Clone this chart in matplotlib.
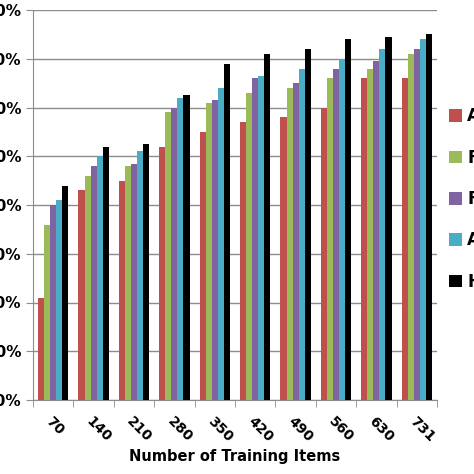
import matplotlib
matplotlib.use("Agg")
import matplotlib.pyplot as plt
import numpy as np

categories = ["70", "140", "210", "280", "350", "420", "490", "560", "630", "731"]
series_names = ["A", "F", "F", "A", "H"]
s1 = [41, 63, 65, 72, 75, 77, 78, 80, 86, 86]
s2 = [56, 66, 68, 79, 81, 83, 84, 86, 88, 91]
s3 = [60, 68, 68.5, 80, 81.5, 86, 85, 88, 89.5, 92]
s4 = [61, 70, 71, 82, 84, 86.5, 88, 90, 92, 94]
s5 = [64, 72, 72.5, 82.5, 89, 91, 92, 94, 94.5, 95]
yticks = [20, 30, 40, 50, 60, 70, 80, 90, 100]
colors = ["#C0504D", "#9BBB59", "#8064A2", "#4BACC6", "#000000"]

fig = plt.figure(figsize=(4.74, 4.74), dpi=100)
ax = fig.add_axes([33/474, 74/474, (437-33)/474, 390/474])
x = np.arange(len(categories))
w = 0.15
for i, (vals, c, n) in enumerate(zip([s1, s2, s3, s4, s5], colors, series_names)):
    ax.bar(x + (i - 2) * w, np.array(vals) - 20, w, bottom=20, color=c, label=n, zorder=3)
ax.set_ylim(20, 100)
ax.set_xlim(-0.5, len(categories) - 0.5)
ax.set_yticks(yticks)
ax.set_yticklabels([f"{v}%" for v in yticks], fontweight="bold", fontsize=11)
ax.yaxis.grid(True, color="#8c8c8c", linewidth=1, zorder=0)
ax.set_xticks(x)
ax.set_xticklabels(categories, rotation=-45, ha="left", rotation_mode="anchor",
                   fontweight="bold", fontsize=10)
ax.set_xticks(np.arange(-0.5, len(categories)), minor=True)
ax.tick_params(axis="x", which="major", length=0, pad=10)
ax.tick_params(axis="x", which="minor", length=5, color="#8c8c8c")
ax.tick_params(axis="y", length=5, color="#8c8c8c")
for s in ["top", "right"]:
    ax.spines[s].set_visible(False)
for s in ["left", "bottom"]:
    ax.spines[s].set_color("#8c8c8c")
ax.set_xlabel("Number of Training Items", fontweight="bold", fontsize=10.5, labelpad=3)
leg = ax.legend(loc="upper left", bbox_to_anchor=(1.0, 0.78), frameon=False,
                prop={"weight": "bold", "size": 12}, handlelength=0.8, handleheight=0.8,
                labelspacing=1.4, handletextpad=0.3, borderaxespad=0.3)
fig.savefig("out.png", dpi=100)
